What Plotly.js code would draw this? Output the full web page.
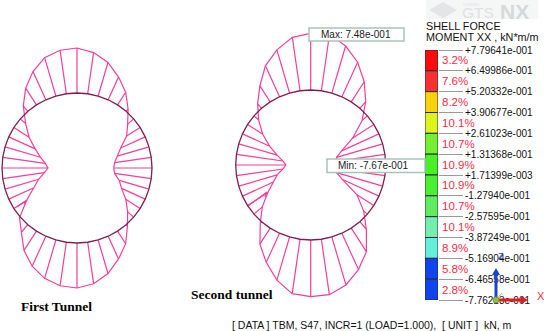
<!DOCTYPE html>
<html>
<head>
<meta charset="utf-8">
<script src="https://cdn.plot.ly/plotly-3.0.1.min.js"></script>
<style>html,body{margin:0;padding:0;background:#fff}#c{width:544px;height:331px}</style>
</head>
<body>
<div id="c"></div>
<script>
// Moment diagram outer radius at each of the 44 lining nodes, clockwise from the crown
var firstTunnelRadius = [120,116.6,110,100,90,78,67,59,48,42,38,36.7,38,44,49,58,67,77,90,100,110,117,120,119,115,108,98,85,76,60,48,40,33,29,32,38,46,57,68,82,95,106,115,119];
var secondTunnelRadius = [131.7,132,124,113,99,84,68,50,34,27,25,24,25,27,35,55,70,85,103,115,125,131,131.7,130,120,107,94,77,64,51,41,35,28,24.7,28,35,45,57,69,81,94,109,120,129];
var firstCentre = [77, 168];
var secondCentre = [310.7, 165];
var liningRadius = 75;

var firstKinkX = [17, 27, 24];
var firstKinkY = [207, 200, 204];
var secondKinkX = [248, 267, 265];
var secondKinkY = [206, 192, 197];

var levels = [0.779641,0.649986,0.520332,0.390677,0.261023,0.131368,0.00171399,-0.12794,-0.257595,-0.387249,-0.516904,-0.646558,-0.776213];
var levelLabels = ['+7.79641e-001','+6.49986e-001','+5.20332e-001','+3.90677e-001','+2.61023e-001','+1.31368e-001','+1.71399e-003','-1.27940e-001','-2.57595e-001','-3.87249e-001','-5.16904e-001','-6.46558e-001','-7.76213e-001'];
var bandColors = ['#fa0c0c','#f83030','#f8d20c','#dcf41c','#74f030','#48f024','#48f030','#60ec60','#74eeac','#66eedd','#1144ee','#1144ee'];
var bandPercents = ['3.2%','7.6%','8.2%','10.1%','10.7%','10.9%','10.9%','10.7%','10.1%','8.9%','5.8%','2.8%'];

var PINK = '#f23f98', MAROON = '#7d2050', RED = '#f52c48';
var FONT = '"Liberation Sans", Arial, sans-serif';

function diagramTraces(radius, centre, kx, ky) {
  var n = radius.length, ox = [], oy = [], sx = [], sy = [], cx = [], cy = [];
  for (var i = 0; i <= n; i++) {
    var a = (i % n) * 2 * Math.PI / n, s = Math.sin(a), c = Math.cos(a), r = radius[i % n];
    ox.push(centre[0] + r * s); oy.push(centre[1] - r * c);
    cx.push(centre[0] + liningRadius * s); cy.push(centre[1] - liningRadius * c);
    if (i < n) {
      sx.push(centre[0] + liningRadius * s, centre[0] + r * s, null);
      sy.push(centre[1] - liningRadius * c, centre[1] - r * c, null);
    }
  }
  function line(x, y, col, w) {
    return {type:'scatter', mode:'lines', x:x, y:y, hoverinfo:'skip', showlegend:false,
            line:{color:col, width:w}};
  }
  return [line(sx, sy, PINK, 1.2), line(ox, oy, PINK, 1.2), line(kx, ky, PINK, 1.2), line(cx, cy, MAROON, 1.3)];
}

var bandBase = [], bandSize = [];
for (var b = 0; b < bandColors.length; b++) {
  bandBase.push(levels[b + 1]);
  bandSize.push(levels[b] - levels[b + 1]);
}
var bandX = bandColors.map(function(){ return 0.5; });

var traces = diagramTraces(firstTunnelRadius, firstCentre, firstKinkX, firstKinkY)
  .concat(diagramTraces(secondTunnelRadius, secondCentre, secondKinkX, secondKinkY));
traces.push({type:'bar', x:bandX, y:bandSize, base:bandBase, width:1, xaxis:'x2', yaxis:'y2',
  marker:{color:bandColors, line:{color:'#2a2a3a', width:1}}, hoverinfo:'skip', showlegend:false});

var annotations = [];
function label(x, y, text, size, color, extra) {
  annotations.push(Object.assign({xref:'x', yref:'y', x:x, y:y, text:text, showarrow:false,
    xanchor:'left', yanchor:'middle', font:{family:FONT, size:size, color:color}}, extra || {}));
}
bandPercents.forEach(function(t, i) {
  annotations.push({xref:'x', yref:'y2', x:440, y:(levels[i] + levels[i + 1]) / 2, text:t, showarrow:false,
    xanchor:'left', yanchor:'middle', font:{family:FONT, size:11.5, color:RED}});
});
var serifBold = {family:'"Liberation Serif", serif', size:13.5, color:'#000', weight:'bold'};
label(318.5, 34, 'Max: 7.48e-001', 10, '#222');
label(335.5, 165.5, 'Min: -7.67e-001', 10, '#222');
label(423.5, 26, 'SHELL FORCE', 10.8, '#111');
label(423.5, 36.5, 'MOMENT XX , kN*m/m', 10.8, '#111');
label(18.5, 306, 'First Tunnel', 13.5, '#000', {font:serifBold});
label(188.5, 294.5, 'Second tunnel', 13.5, '#000', {font:serifBold});
label(230, 324.5, '[ DATA ] TBM, S47, INCR=1 (LOAD=1.000),&nbsp;&nbsp;[ UNIT ]&nbsp;&nbsp;kN, m', 10.5, '#111');
label(460, 12.5, 'GTS', 15.5, '#dde2e2');
label(498, 11.5, 'NX', 21, '#d4d9d9', {font:{family:FONT, size:21, color:'#d4d9d9', weight:'bold'}});
label(461, 3.5, 'midas', 6, '#e2e6e6');
label(534.5, 296, 'X', 11, '#f03030');
label(495.5, 255.5, 'Z', 9, '#3040e0');

var shapes = [
  {type:'rect', xref:'x', yref:'y', x0:426, x1:538, y0:0, y1:19, fillcolor:'#f5f7f7', line:{width:0}, layer:'below'},
  {type:'path', xref:'x', yref:'y', path:'M 429 10 L 443 2 L 457 10 L 443 18 Z', fillcolor:'#e2e6e6', line:{width:0}, layer:'below'},
  {type:'rect', xref:'x', yref:'y', x0:309, x1:404, y0:28, y1:41, fillcolor:'#fff', line:{color:'#a9c2ba', width:1.5}},
  {type:'rect', xref:'x', yref:'y', x0:327, x1:425, y0:159, y1:172.5, fillcolor:'#fff', line:{color:'#a9c2ba', width:1.5}},
  // axis triad
  {type:'line', xref:'x', yref:'y', x0:496, x1:496, y0:300, y1:273, line:{color:'#1a44d0', width:3}},
  {type:'path', xref:'x', yref:'y', path:'M 492 275 L 496 268 L 500 275 Z', fillcolor:'#1a44d0', line:{width:0}},
  {type:'line', xref:'x', yref:'y', x0:496, x1:522, y0:300, y1:300, line:{color:'#e01c1c', width:3}},
  {type:'path', xref:'x', yref:'y', path:'M 521 296 L 528 300 L 521 304 Z', fillcolor:'#e01c1c', line:{width:0}},
  {type:'line', xref:'x', yref:'y', x0:496, x1:502, y0:300, y1:293, line:{color:'#7ad040', width:1}},
  {type:'circle', xref:'x', yref:'y', x0:493, x1:499, y0:297, y1:303, fillcolor:'#9ab84a', line:{color:'#6aa03a', width:1}}
];

var layout = {
  width:544, height:331, margin:{l:0, r:0, t:0, b:0},
  paper_bgcolor:'#fff', plot_bgcolor:'rgba(0,0,0,0)', showlegend:false, bargap:0,
  xaxis:{range:[0,544], domain:[0,1], visible:false, fixedrange:true},
  yaxis:{range:[331,0], domain:[0,1], visible:false, fixedrange:true},
  xaxis2:{range:[0,1], domain:[425/544,438/544], anchor:'y2', visible:false, fixedrange:true},
  yaxis2:{range:[levels[12],levels[0]], domain:[31/331,281/331], anchor:'x2', side:'right',
    tickmode:'array', tickvals:levels, ticktext:levelLabels, ticks:'outside', ticklen:24, tickwidth:1,
    tickcolor:'#9a9a9a', showgrid:false, zeroline:false, showline:false, fixedrange:true,
    tickfont:{family:FONT, size:10, color:'#111'}},
  annotations:annotations, shapes:shapes
};
Plotly.newPlot('c', traces, layout, {displayModeBar:false, staticPlot:true});
</script>
</body>
</html>
